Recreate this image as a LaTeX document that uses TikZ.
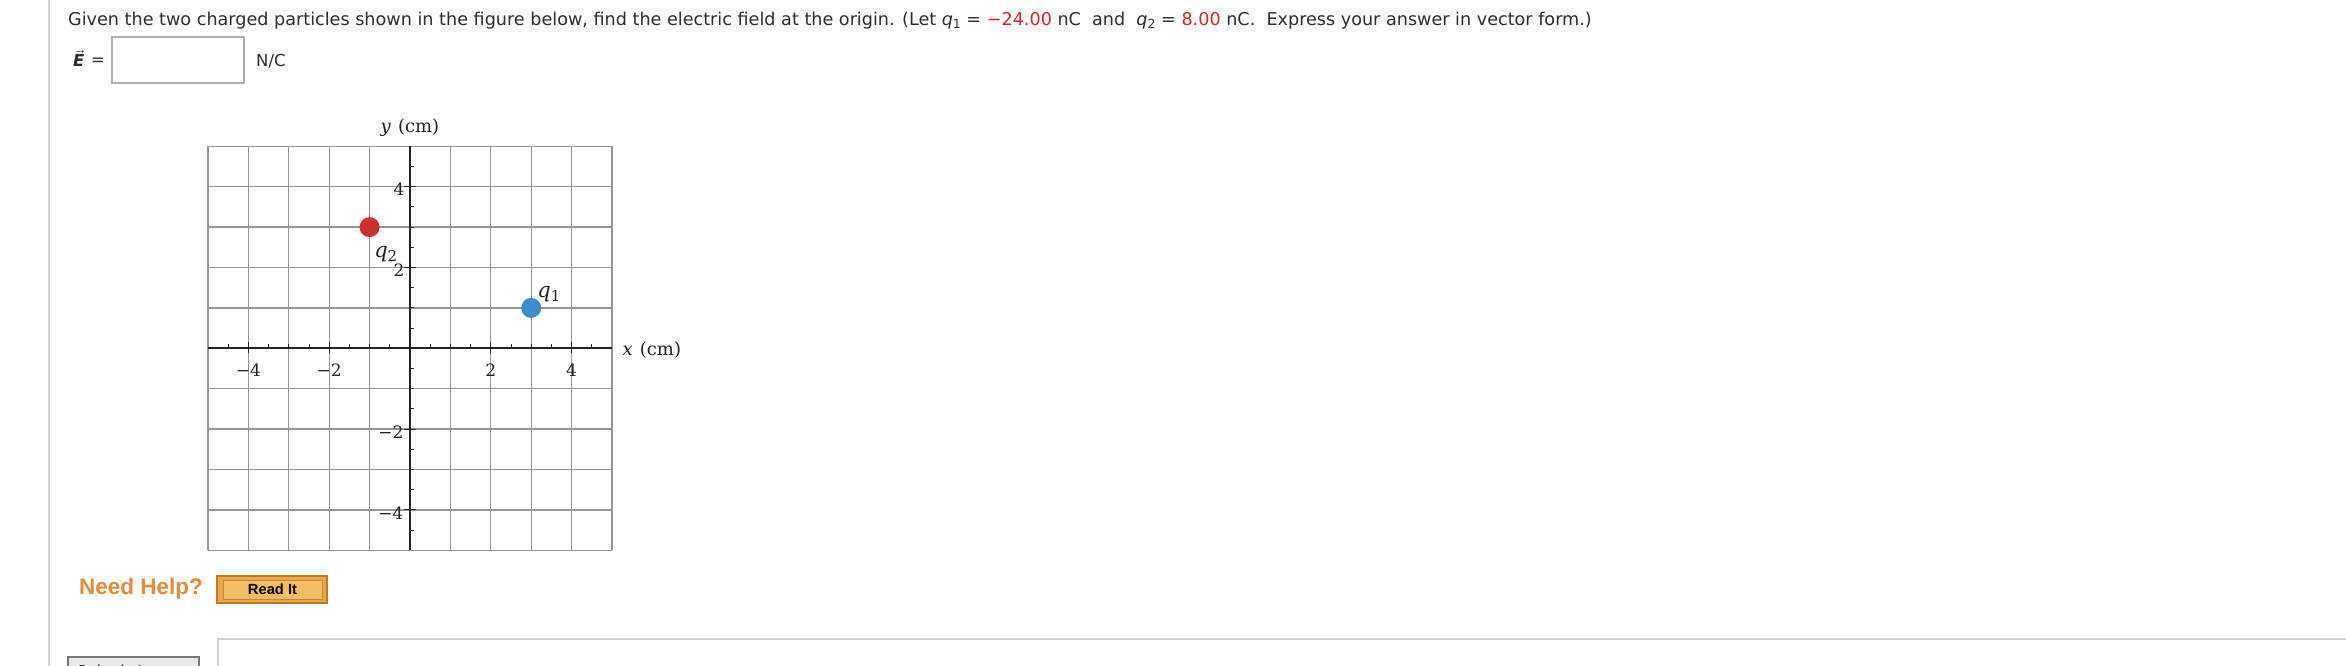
\documentclass[tikz,border=0pt]{standalone}
\usepackage{fontspec}
\setmainfont{DejaVu Sans}
\newfontfamily\graphfont{DejaVu Serif}
\newfontfamily\arialfont{Liberation Sans}
\usetikzlibrary{arrows.meta}
\definecolor{bodytext}{RGB}{45,45,45}
\definecolor{qred}{RGB}{205,40,40}
\definecolor{gridgray}{RGB}{150,150,150}
\definecolor{axisdark}{RGB}{35,35,35}
\definecolor{dotred}{RGB}{205,48,44}
\definecolor{dotblue}{RGB}{60,140,205}
\definecolor{helporange}{RGB}{228,140,55}
\definecolor{btnborder}{RGB}{190,120,45}
\definecolor{btnfill}{RGB}{236,166,76}
\definecolor{btninner}{RGB}{243,190,98}
\definecolor{btninnerborder}{RGB}{200,135,60}
\definecolor{boxgray}{RGB}{175,175,175}
\definecolor{pagegray}{RGB}{210,210,210}
\definecolor{submitfill}{RGB}{232,232,232}
\definecolor{submitborder}{RGB}{120,120,120}
\tikzset{
  bodyfont/.style={font=\fontsize{17.6}{20}\selectfont, text=bodytext, inner sep=0pt},
  gridline/.style={draw=gridgray, line width=1.3pt},
  axisline/.style={draw=axisdark, line width=1.8pt},
  tickline/.style={draw=axisdark, line width=1pt},
  ticklabel/.style={font=\graphfont\fontsize{17}{20}\selectfont, text=axisdark, inner sep=0pt},
  axislabel/.style={font=\graphfont\fontsize{18}{20}\selectfont, text=axisdark, inner sep=0pt},
  chargedot/.style={circle, inner sep=0pt, minimum size=20pt},
  chargelabel/.style={font=\graphfont\fontsize{21}{24}\selectfont, text=axisdark, inner sep=0pt},
}
\begin{document}
\begin{tikzpicture}[x=1pt,y=-1pt]
\useasboundingbox (0,0) rectangle (2346,666);
\fill[white] (0,0) rectangle (2346,666);
% page left border
\draw[pagegray, line width=1.3pt] (49,0) -- (49,666);
% question text
\node[bodyfont, anchor=base west] (question) at (68,26)
  {Given the two charged particles shown in the figure below, find the electric field at the origin. (Let \textit{q}\raisebox{-3pt}{\fontsize{12.5}{12}\selectfont 1} = \textcolor{qred}{−24.00} nC\ \ and\ \ \textit{q}\raisebox{-3pt}{\fontsize{12.5}{12}\selectfont 2} = \textcolor{qred}{8.00} nC.\ \ Express your answer in vector form.)};
% answer line
\node[font=\fontsize{16.5}{20}\selectfont, text=bodytext, inner sep=0pt, anchor=base west] (Evec) at (73,67) {$\vec{\mbox{\bfseries\itshape E}}$};
\node[font=\fontsize{16.5}{20}\selectfont, text=bodytext, inner sep=0pt, anchor=center] (eqsign) at (98,62) {=};
\node[draw=boxgray, line width=1.2pt, minimum width=132pt, minimum height=46pt, inner sep=0pt] (answerbox) at (178,60) {};
\node[font=\fontsize{16.5}{20}\selectfont, text=bodytext, inner sep=0pt, anchor=base west] (unit) at (256,67) {N/C};
% graph
\begin{scope}[shift={(410,348.3)}, x=40.4pt, y=40.4pt]
  \foreach \g in {-5,...,5} {
    \draw[gridline] (\g,-5) -- (\g,5);
    \draw[gridline] (-5,\g) -- (5,\g);
  }
  \draw[axisline] (-5,0) -- (5,0);
  \draw[axisline] (0,-5) -- (0,5);
  \foreach \t in {-4.5,-4,...,4.6} {
    \draw[tickline] (\t,0) -- (\t,0.1);
    \draw[tickline] (0,\t) -- (0.1,\t);
  }
  \foreach \t in {-4,-2,2,4} {
    \draw[tickline] (\t,-0.12) -- (\t,0.15);
    \draw[tickline] (-0.15,\t) -- (0.15,\t);
  }
  \node[ticklabel] (xlm4) at (-4,-0.54) {−4};
  \node[ticklabel] (xlm2) at (-2,-0.54) {−2};
  \node[ticklabel] (xlp2) at (2,-0.54) {2};
  \node[ticklabel] (xlp4) at (4,-0.54) {4};
  \node[ticklabel, anchor=east] (ylp4) at (-0.13,3.94) {4};
  \node[ticklabel, anchor=east] (ylp2) at (-0.13,1.94) {2};
  \node[ticklabel, anchor=east] (ylm2) at (-0.16,-2.08) {−2};
  \node[ticklabel, anchor=east] (ylm4) at (-0.16,-4.07) {−4};
  \node[axislabel] (ylabel) at (0,5.45) {\textit{y}\hspace{7pt}(cm)};
  \node[axislabel, anchor=west] (xlabel) at (5.26,-0.04) {\textit{x}\hspace{7pt}(cm)};
  \node[chargedot, fill=dotred] (q2dot) at (-1,3) {};
  \node[chargedot, fill=dotblue] (q1dot) at (3,1) {};
  \node[chargelabel] (q2label) at (-0.6,2.33) {\textit{q}\raisebox{-4pt}{\fontsize{15}{15}\selectfont 2}};
  \node[chargelabel] (q1label) at (3.44,1.34) {\textit{q}\raisebox{-4pt}{\fontsize{15}{15}\selectfont 1}};
\end{scope}
% need help
\node[font=\arialfont\bfseries\fontsize{22.5}{26}\selectfont, text=helporange, inner sep=0pt] (needhelp) at (141,589) {Need Help?};
\node[draw=btnborder, fill=btnfill, line width=1.2pt, minimum width=110pt, minimum height=27pt, inner sep=0pt] (readitouter) at (272,589.5) {};
\node[draw=btninnerborder, fill=btninner, line width=1pt, minimum width=99pt, minimum height=19pt, inner sep=0pt, font=\arialfont\bfseries\fontsize{14.7}{17}\selectfont, text=black] (readit) at (272.5,589.5) {Read It};
% bottom area
\draw[pagegray, line width=1.5pt] (218,670) -- (218,639) -- (2350,639);
\begin{scope}
  \clip (0,0) rectangle (2346,666);
  \node[draw=submitborder, fill=submitfill, line width=1.2pt, minimum width=131pt, minimum height=28pt, inner sep=0pt, font=\arialfont\fontsize{17}{20}\selectfont, text=black] (submit) at (133.5,671) {Submit Answer};
\end{scope}
\end{tikzpicture}
\end{document}
